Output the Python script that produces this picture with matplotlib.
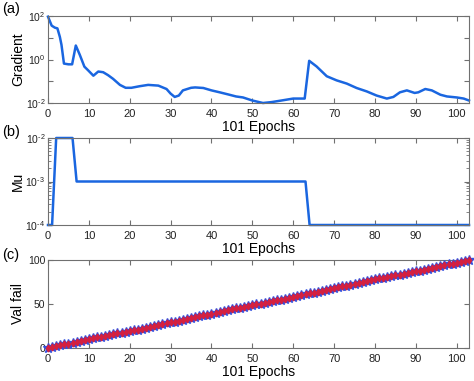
import math
import matplotlib
matplotlib.use('Agg')
import matplotlib.pyplot as plt
from matplotlib.ticker import LogLocator, FixedLocator, NullFormatter, FuncFormatter

plt.rcParams['font.family'] = ['Liberation Sans', 'DejaVu Sans']
plt.rcParams['mathtext.fontset'] = 'custom'
plt.rcParams['mathtext.rm'] = 'Liberation Sans'
plt.rcParams['mathtext.default'] = 'regular'

# (a) gradient
grad_epoch = [0, 0.9, 1.7, 2.3, 2.9, 3.3, 3.9, 5, 5.9, 6.8, 7.8, 8.9, 9.8, 11.1, 12.3,
              13.5, 14.7, 15.9, 17.6, 19, 20.4, 22.4, 24.5, 27, 29, 30, 31, 32, 33,
              35, 36, 38, 40, 42, 44, 46, 47.7, 50, 52.6, 54.7, 57.1, 60, 62.8, 63.9,
              65.7, 68.2, 70.6, 73.1, 75.5, 78, 80.4, 82.9, 84.5, 86.1, 87.8, 89.7,
              90.6, 92.3, 93.9, 96, 97.6, 100, 101.7, 103]
gradient = [93, 36, 29, 27, 11, 4.7, 0.65, 0.6, 0.6, 4.4, 1.6, 0.47, 0.32, 0.18, 0.28,
            0.26, 0.19, 0.13, 0.068, 0.05, 0.05, 0.059, 0.068, 0.063, 0.044, 0.027,
            0.019, 0.022, 0.038, 0.05, 0.052, 0.049, 0.038, 0.031, 0.025, 0.020,
            0.018, 0.013, 0.010, 0.011, 0.013, 0.016, 0.016, 0.87, 0.48, 0.17, 0.11,
            0.078, 0.049, 0.034, 0.022, 0.016, 0.019, 0.031, 0.038, 0.029, 0.031,
            0.044, 0.038, 0.024, 0.020, 0.018, 0.016, 0.013]

# (b) mu
mu_epoch = [0, 1, 2, 6, 7, 63, 64, 103]
mu = [1e-4, 1e-4, 1e-2, 1e-2, 1e-3, 1e-3, 1e-4, 1e-4]

# (c) validation failures
val_epoch = list(range(104))
val_fail = [0, 1, 2, 3, 4, 5, 6, 7, 8, 9, 10, 11, 12, 13, 14, 15, 16, 17, 17, 18,
            19, 20, 21, 22, 23, 24, 25, 26, 27, 28, 29, 30, 31, 32, 33, 34, 35, 36,
            37, 38, 39, 40, 41, 42, 43, 44, 45, 46, 47, 48, 49, 50, 50, 51, 52, 53,
            54, 55, 56, 57, 58, 59, 60, 61, 62, 63, 64, 65, 66, 67, 68, 69, 70, 71,
            72, 73, 74, 75, 76, 77, 78, 79, 80, 81, 82, 83, 83, 84, 85, 86, 87, 88,
            89, 90, 91, 92, 93, 94, 95, 96, 97, 98, 99, 100]

x_ticks = [0, 10, 20, 30, 40, 50, 60, 70, 80, 90, 100]
line_blue = '#1a66e0'
spine_col = '#707070'

fig = plt.figure(figsize=(4.74, 3.81), dpi=100)
W, H = 474, 381
left, right = 48, 469


def make_ax(top, bottom):
    return fig.add_axes([left / W, 1 - bottom / H, (right - left) / W, (bottom - top) / H])


def style(ax):
    ax.set_xlim(0, 103)
    ax.set_xticks(x_ticks)
    for s in ax.spines.values():
        s.set_color(spine_col)
        s.set_linewidth(0.8)
    ax.tick_params(which='both', direction='in', top=True, right=True,
                   color=spine_col, labelsize=8, labelcolor='#222222', pad=4)
    ax.tick_params(axis='y', labelsize=7.5, pad=2)
    ax.tick_params(which='major', length=3.5)
    ax.tick_params(which='minor', length=2)
    ax.set_xlabel('101 Epochs', fontsize=10, labelpad=1)


def exp_fmt(v, pos):
    e = int(round(math.log10(v)))
    sign = '\u2010' if e < 0 else ''
    return r'$10^{%s%d}$' % (sign, abs(e))


def even_exp_fmt(v, pos):
    if round(math.log10(v)) % 2 == 0:
        return exp_fmt(v, pos)
    return ''


ax1 = make_ax(16, 103)
ax1.plot(grad_epoch, gradient, color=line_blue, lw=1.8, clip_on=False)
ax1.set_yscale('log')
ax1.set_ylim(1e-2, 1e2)
ax1.yaxis.set_major_locator(FixedLocator([1e-2, 1e-1, 1e0, 1e1, 1e2]))
ax1.yaxis.set_major_formatter(FuncFormatter(even_exp_fmt))
ax1.yaxis.set_minor_formatter(NullFormatter())
ax1.yaxis.set_minor_locator(FixedLocator([]))
ax1.set_ylabel('Gradient', fontsize=10)
style(ax1)

ax2 = make_ax(138, 225)
ax2.plot(mu_epoch, mu, color=line_blue, lw=1.8, clip_on=False)
ax2.set_yscale('log')
ax2.set_ylim(1e-4, 1e-2)
ax2.yaxis.set_major_locator(FixedLocator([1e-4, 1e-3, 1e-2]))
ax2.yaxis.set_major_formatter(FuncFormatter(exp_fmt))
ax2.yaxis.set_minor_locator(LogLocator(base=10, subs=range(2, 10)))
ax2.yaxis.set_minor_formatter(NullFormatter())
ax2.set_ylabel('Mu', fontsize=10)
style(ax2)

ax3 = make_ax(260, 348)
ax3.plot(val_epoch, val_fail, color='#d42040', lw=1.2, marker='*', ms=7,
         mfc='#3050e0', mec='#3050e0', clip_on=False, zorder=3)
ax3.plot(val_epoch, val_fail, ls='none', marker='d', ms=3.5,
         mfc='#d42040', mec='#d42040', clip_on=False, zorder=4)
ax3.set_ylim(0, 100)
ax3.set_yticks([0, 50, 100])
ax3.set_ylabel('Val fail', fontsize=10)
style(ax3)

for ax in (ax1, ax2, ax3):
    ax.yaxis.set_label_coords(-0.055, 0.5)

fig.text(2 / W, 1 - 9 / H, '(a)', fontsize=10.5, va='center', ha='left')
fig.text(2 / W, 1 - 132 / H, '(b)', fontsize=10.5, va='center', ha='left')
fig.text(2 / W, 1 - 255 / H, '(c)', fontsize=10.5, va='center', ha='left')

fig.savefig('out.png', dpi=100)
